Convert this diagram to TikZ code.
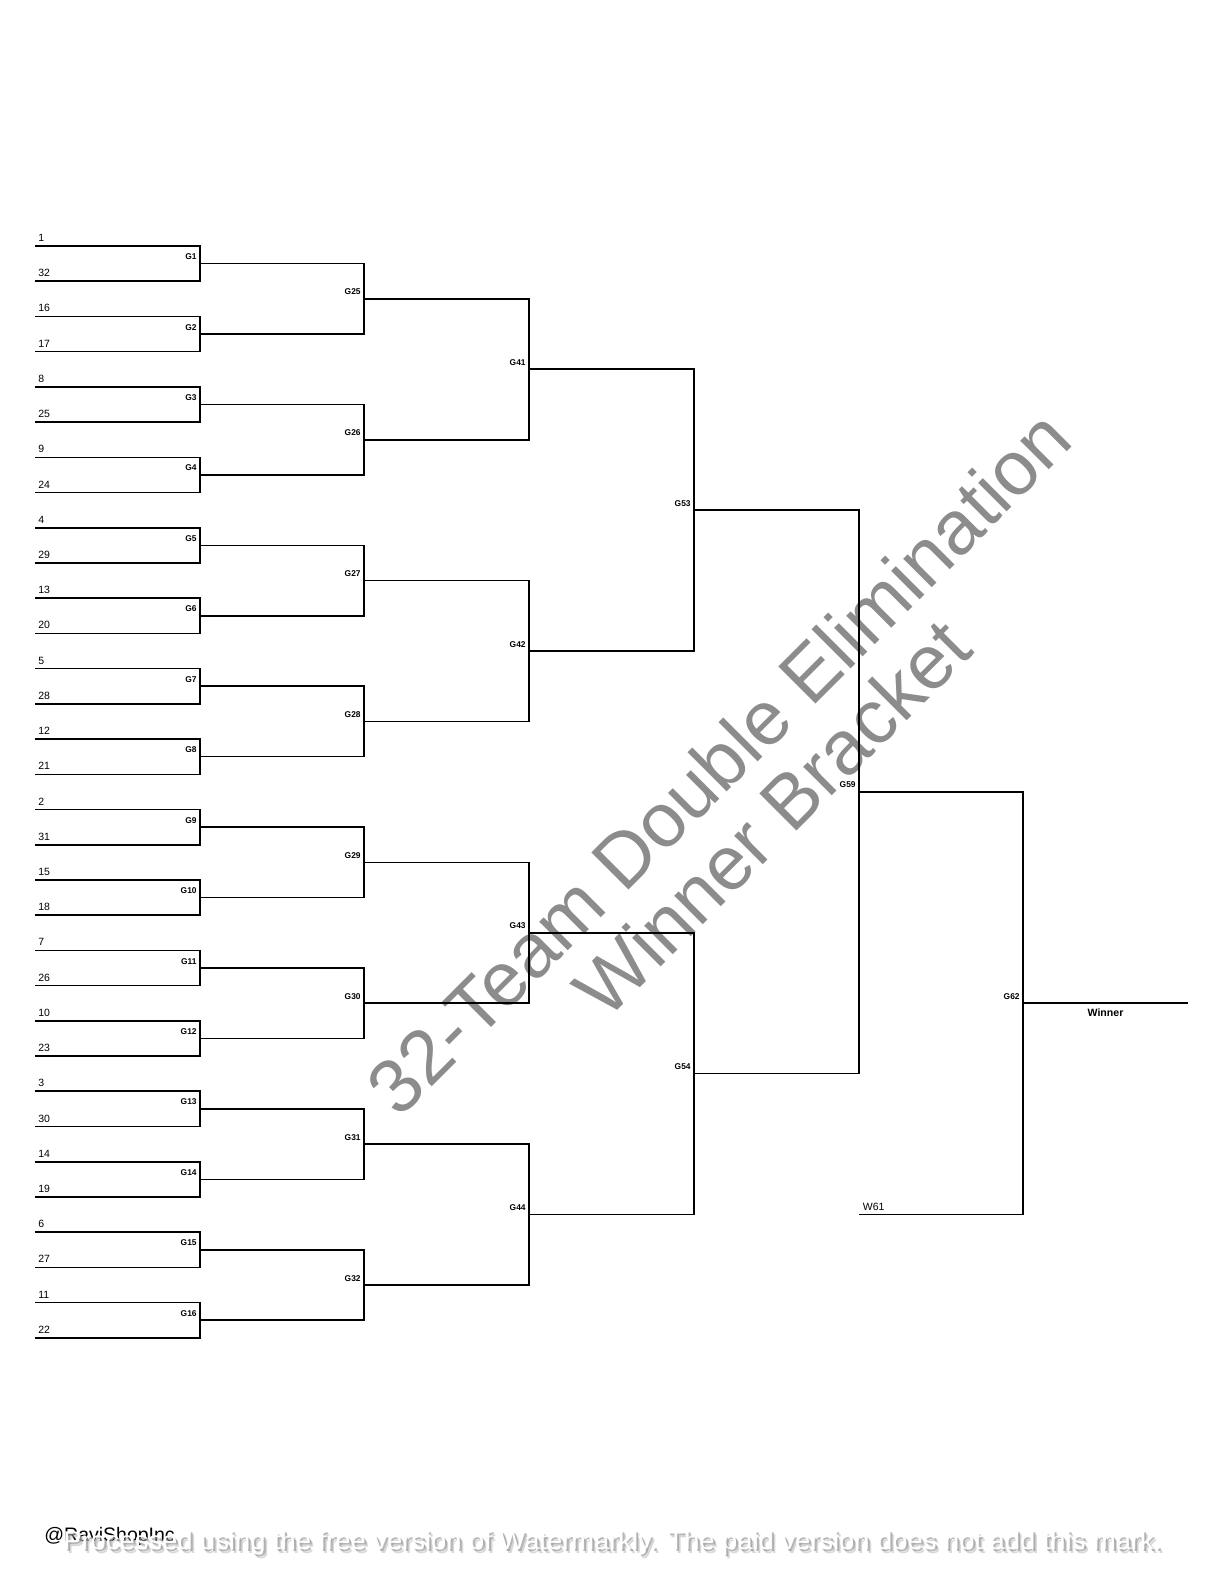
\documentclass[tikz,border=0pt]{standalone}
\usepackage{fontspec}
\setmainfont{Liberation Sans}
\newcommand{\wmktext}{\resizebox{549pt}{9.3pt}{Processed using the free version of Watermarkly. The paid version does not add this mark.}}
\begin{document}
\begin{tikzpicture}[x=0.5pt,y=-0.5pt,
  br/.style={line width=0.8pt,black},
  team/.style={inner sep=0pt,anchor=base west,font=\fontsize{5.25}{6}\selectfont},
  game/.style={inner sep=0pt,anchor=base east,font=\fontsize{4.2}{5}\selectfont\bfseries},
  wm/.style={inner sep=0pt,anchor=base,rotate=45,text={rgb,255:red,140;green,140;blue,140},font=\fontsize{38.2}{42}\selectfont},
  foot/.style={inner sep=0pt,anchor=base west}]
\useasboundingbox[fill=white] (0,0) rectangle (1224,1584);
% watermark title (behind)
\node[wm] (wmA) at (737.6,781.5) {32-Team Double Elimination};
\node[wm] (wmB) at (791.3,836.6) {Winner Bracket};
% teams
\foreach \s [count=\i from 0] in {1,32,16,17,8,25,9,24,4,29,13,20,5,28,12,21,2,31,15,18,7,26,10,23,3,30,14,19,6,27,11,22}{
  \pgfmathsetmacro\yy{246+35.22*\i}
  \coordinate (t\i) at (35,\yy);
  \node[team] (lt\i) at (38,\yy-4.5) {\s};
}
% round 1
\foreach \k in {1,...,16}{
  \pgfmathsetmacro\yy{246+35.22*(2*\k-1.5)}
  \pgfmathtruncatemacro\a{2*\k-2}
  \pgfmathtruncatemacro\b{2*\k-1}
  \coordinate (g\k) at (200,\yy);
  \node[game] (lg\k) at (197,\yy-4) {G\k};
  \draw[br] (t\a) -| (g\k) |- (t\b);
}
% round 2
\foreach \j in {1,...,8}{
  \pgfmathsetmacro\yy{246+35.22*(4*\j-2.5)}
  \pgfmathtruncatemacro\n{24+\j}
  \pgfmathtruncatemacro\a{2*\j-1}
  \pgfmathtruncatemacro\b{2*\j}
  \coordinate (g\n) at (364,\yy);
  \node[game] (lg\n) at (361,\yy-4) {G\n};
  \draw[br] (g\a) -| (g\n) |- (g\b);
}
% round 3
\foreach \j in {1,...,4}{
  \pgfmathsetmacro\yy{246+35.22*(8*\j-4.5)}
  \pgfmathtruncatemacro\n{40+\j}
  \pgfmathtruncatemacro\a{24+2*\j-1}
  \pgfmathtruncatemacro\b{24+2*\j}
  \coordinate (g\n) at (529,\yy);
  \node[game] (lg\n) at (526,\yy-4) {G\n};
  \draw[br] (g\a) -| (g\n) |- (g\b);
}
% round 4
\foreach \j in {1,2}{
  \pgfmathsetmacro\yy{246+35.22*(16*\j-8.5)}
  \pgfmathtruncatemacro\n{52+\j}
  \pgfmathtruncatemacro\a{40+2*\j-1}
  \pgfmathtruncatemacro\b{40+2*\j}
  \coordinate (g\n) at (694,\yy);
  \node[game] (lg\n) at (691,\yy-4) {G\n};
  \draw[br] (g\a) -| (g\n) |- (g\b);
}
% round 5
\coordinate (g59) at (859,791.9);
\node[game] (lg59) at (856,787.9) {G59};
\draw[br] (g53) -| (g59) |- (g54);
% final
\coordinate (w61) at (859,1214.6);
\node[team] (lw61) at (862.5,1210.1) {W61};
\coordinate (g62) at (1023,1003.2);
\node[game] (lg62) at (1020,999.2) {G62};
\draw[br] (g59) -| (g62) |- (w61);
\coordinate (win) at (1188,1003.2);
\draw[br] (g62) -- (win);
\node[inner sep=0pt,anchor=base,font=\fontsize{5.3}{6}\selectfont\bfseries] (lwin) at (1105.5,1016.5) {Winner};
% footer
\node[foot,font=\fontsize{9.75}{11}\selectfont] (ravi) at (44,1541.5) {@RaviShopInc};
\node[foot,text=black!30,opacity=0.5] (wmkS1) at (66.5,1553) {\wmktext};
\node[foot,text=black!40,opacity=0.7] (wmkS2) at (65,1551.5) {\wmktext};
\node[foot,text=white] (wmk) at (63,1549.5) {\wmktext};
\end{tikzpicture}
\end{document}
